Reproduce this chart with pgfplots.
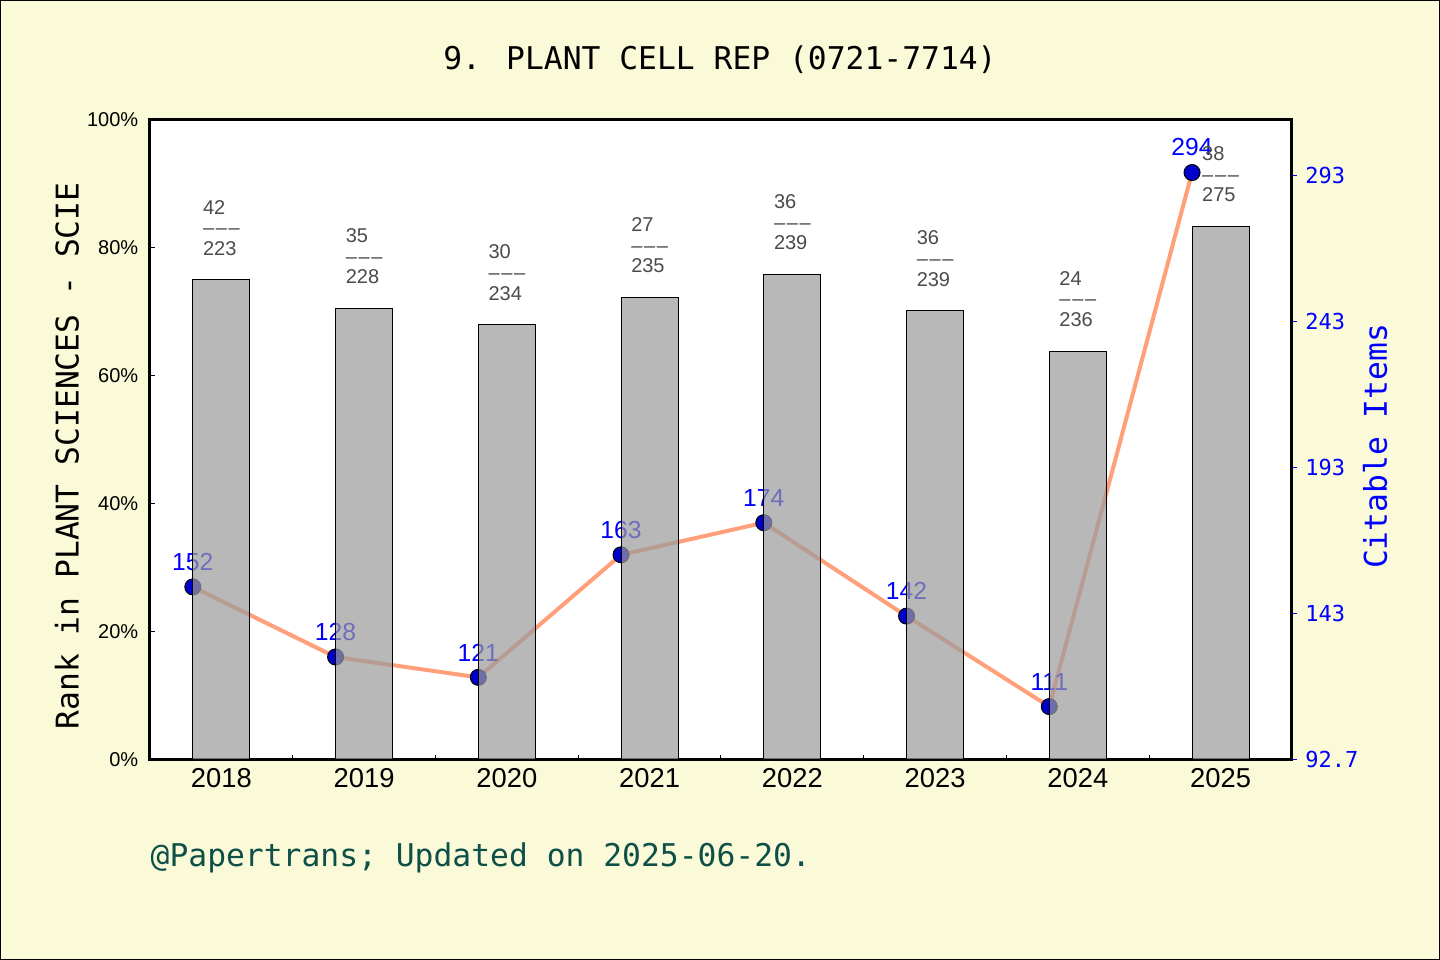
\documentclass[border=0pt]{standalone}
\usepackage{pgfplots}
\pgfplotsset{compat=1.18}
\usepackage{pgfplotstable}
\usepackage{fontspec}
\setmainfont{Liberation Sans}
\newfontfamily\monofont{DejaVu Sans Mono}

\definecolor{bgyellow}{RGB}{250,250,217}
\definecolor{linesalmon}{RGB}{255,160,122}
\definecolor{dotblue}{RGB}{0,0,205}
\definecolor{footgreen}{RGB}{14,80,72}
\definecolor{bargray}{RGB}{155,155,157}
\definecolor{labgray}{RGB}{75,75,75}

% rank percentile (bar height) with rank / journals in category
\pgfplotstableread{
x rank top bot
0 75.0 42 223
1 70.6 35 228
2 68.0 30 234
3 72.3 27 235
4 75.9 36 239
5 70.2 36 239
6 63.9 24 236
7 83.4 38 275
}\rankdata

% citable items per year
\pgfplotstableread{
x items
-0.2 152
0.8 128
1.8 121
2.8 163
3.8 174
4.8 142
5.8 111
6.8 294
}\itemdata

\begin{document}
\begin{tikzpicture}
\fill[bgyellow] (0pt,0pt) rectangle (432pt,288pt);
\draw[black, line width=0.4pt] (0.2pt,0.2pt) rectangle (431.8pt,287.8pt);

\node[anchor=base, inner sep=0, font=\monofont\fontsize{9.4}{11}\selectfont]
  at (216pt,267pt) {9. PLANT CELL REP (0721-7714)};
\node[anchor=base west, inner sep=0, text=footgreen, font=\monofont\fontsize{9.4}{11}\selectfont]
  at (45pt,27.9pt) {@Papertrans; Updated on 2025-06-20.};

% citable items, right axis (drawn first, under the bars)
\begin{axis}[
  at={(45pt,60pt)}, anchor=south west,
  scale only axis, width=342.6pt, height=192pt,
  xmin=-0.5, xmax=7.5, ymin=92.7, ymax=312,
  axis background/.style={fill=white},
  axis line style={line width=0.9pt},
  xtick=\empty,
  ytick={92.7,143,193,243,293},
  yticklabels={92.7,143,193,243,293},
  ytick pos=right, yticklabel pos=right,
  tick align=outside, major tick length=1.5pt,
  tick style={blue, line width=0.3pt},
  yticklabel style={text=blue, font=\monofont\fontsize{6.6}{7}\selectfont, xshift=-1pt},
  ylabel={Citable Items},
  ylabel style={at={(axis description cs:1.0727,0.49)}, anchor=center,
    text=blue, font=\monofont\fontsize{9.4}{11}\selectfont},
  /pgf/number format/assume math mode=true,
  nodes near coords,
  every node near coord/.append style={text=blue, font=\fontsize{7.4}{8}\selectfont, anchor=south, yshift=1.4pt},
]
\addplot[color=linesalmon, line width=1.2pt, mark=*, mark size=2.4pt,
  mark options={fill=dotblue, draw=black, line width=0.3pt}]
  table[x=x, y=items] {\itemdata};
\end{axis}

% rank percentage bars, left axis (semi-transparent, over the line)
\begin{axis}[
  at={(45pt,60pt)}, anchor=south west,
  scale only axis, width=342.6pt, height=192pt,
  xmin=-0.5, xmax=7.5, ymin=0, ymax=100,
  axis line style={line width=0.9pt},
  ybar, bar width=0.4,
  xtick={0,...,7},
  xticklabels={2018,2019,2020,2021,2022,2023,2024,2025},
  xtick pos=bottom, ytick pos=left,
  major x tick style={draw=none},
  minor xtick={0.5,1.5,...,6.5},
  tick align=inside, major tick length=1.5pt, minor tick length=1.5pt,
  tick style={black, line width=0.3pt},
  xticklabel style={font=\fontsize{8.2}{9}\selectfont, yshift=1pt},
  ytick={0,20,...,100},
  yticklabel={\pgfmathprintnumber{\tick}\%},
  yticklabel style={font=\fontsize{6}{7}\selectfont},
  ylabel={Rank in PLANT SCIENCES - SCIE},
  ylabel style={at={(axis description cs:-0.0727,0.475)}, anchor=center,
    font=\monofont\fontsize{9.4}{11}\selectfont},
  /pgf/number format/assume math mode=true,
]
\addplot[fill=bargray, fill opacity=0.71, draw=black, line width=0.3pt,
  visualization depends on={\thisrow{top}\as\rtop},
  visualization depends on={\thisrow{bot}\as\rbot},
  nodes near coords={\pgfmathprintnumber{\rtop}\\{--}\kern0.5pt{--}\kern0.5pt{--}\\\pgfmathprintnumber{\rbot}},
  every node near coord/.append style={align=left, text=labgray, fill opacity=1, text opacity=1,
    font=\fontsize{6}{6.2}\selectfont, anchor=south, yshift=3.8pt}]
  table[x=x, y=rank] {\rankdata};
\end{axis}

\pgfresetboundingbox
\path (0pt,0pt) rectangle (432pt,288pt);
\end{tikzpicture}
\end{document}
